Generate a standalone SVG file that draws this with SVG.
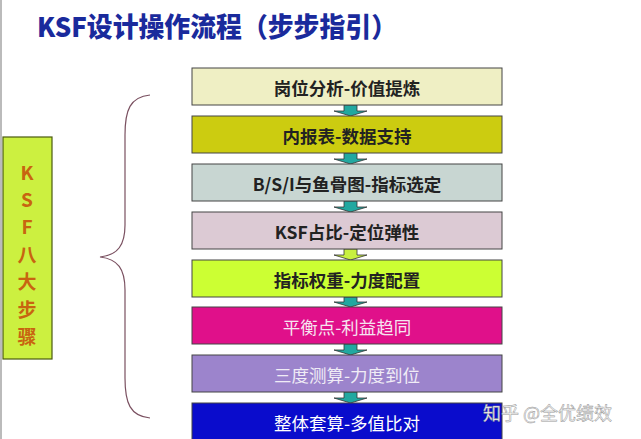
<svg xmlns="http://www.w3.org/2000/svg" width="641" height="439" viewBox="0 0 641 439">
<style>
.box{stroke:#444;stroke-width:1}
.t{font-family:"Noto Sans CJK SC","Noto Sans",sans-serif;font-size:17.5px;text-anchor:middle;dominant-baseline:central}
.b{font-weight:bold}
.arr{fill:#22a8a0;stroke:#333;stroke-width:0.8}
</style>
<rect width="641" height="439" fill="#fff"/>
<line x1="1" y1="0" x2="1" y2="439" stroke="#bbb" stroke-width="2"/>
<text x="37" y="37" font-family="'Noto Sans CJK SC','Liberation Sans',sans-serif" font-size="27" font-weight="900" fill="#1a2a9c" textLength="360" lengthAdjust="spacingAndGlyphs">KSF设计操作流程（步步指引）</text>

<g id="ksf-label">
<rect x="3" y="137" width="49" height="222" fill="#ccf040" stroke="#4a5a10" stroke-width="1.2"/>
<g font-family="'Noto Sans CJK SC','Liberation Sans',sans-serif" font-size="19" font-weight="bold" fill="#c86410" text-anchor="middle" dominant-baseline="central">
<text x="27" y="171">K</text>
<text x="27" y="198">S</text>
<text x="27" y="225">F</text>
<text x="27" y="253">八</text>
<text x="27" y="280">大</text>
<text x="27" y="308">步</text>
<text x="27" y="335">骤</text>
</g>
</g>

<g id="brace">
<path d="M150,95 C130,97 125,110 125,135 L125,225 C125,245 118,255 100,257 C118,259 125,269 125,290 L125,378 C125,403 130,416 150,418" fill="none" stroke="#7a5060" stroke-width="1.2"/>
</g>

<g id="connectors">
<path class="arr" d="M344,105 H357 V111 H367 L350.5,116 L334,111 H344 Z"/>
<path class="arr" d="M344,153 H357 V159 H367 L350.5,164 L334,159 H344 Z"/>
<path class="arr" d="M344,201 H357 V207 H367 L350.5,212 L334,207 H344 Z"/>
<path class="arr" style="fill:#c8f040" d="M344,249 H357 V255 H367 L350.5,260 L334,255 H344 Z"/>
<path class="arr" d="M344,297 H357 V302 H367 L350.5,307 L334,302 H344 Z"/>
<path class="arr" d="M344,344 H357 V350 H367 L350.5,355 L334,350 H344 Z"/>
<path class="arr" d="M344,392 H357 V398 H367 L350.5,403 L334,398 H344 Z"/>
</g>

<g id="step1"><rect class="box" x="192" y="68" width="310" height="37" fill="#efefc4"/><text class="t b" x="347" y="87" fill="#222">岗位分析-价值提炼</text></g>
<g id="step2"><rect class="box" x="192" y="116" width="310" height="37" fill="#cccc10"/><text class="t b" x="347" y="135" fill="#222">内报表-数据支持</text></g>
<g id="step3"><rect class="box" x="192" y="164" width="310" height="37" fill="#c8d6d2"/><text class="t b" x="347" y="183" fill="#222">B/S/I与鱼骨图-指标选定</text></g>
<g id="step4"><rect class="box" x="192" y="212" width="310" height="37" fill="#dccad4"/><text class="t b" x="347" y="231" fill="#222">KSF占比-定位弹性</text></g>
<g id="step5"><rect class="box" x="192" y="260" width="310" height="37" fill="#ccff33"/><text class="t b" x="347" y="279" fill="#222">指标权重-力度配置</text></g>
<g id="step6"><rect class="box" x="192" y="307" width="310" height="37" fill="#e0108a"/><text class="t" x="347" y="326" fill="#f6e4f0">平衡点-利益趋同</text></g>
<g id="step7"><rect class="box" x="192" y="355" width="310" height="37" fill="#9c84cc"/><text class="t" x="347" y="374" fill="#f0ecf6">三度测算-力度到位</text></g>
<g id="step8"><rect class="box" x="192" y="403" width="310" height="40" fill="#0a0ccc"/><text class="t" x="347" y="422" fill="#ffffff">整体套算-多值比对</text></g>

<text x="483" y="420" font-family="'Noto Sans CJK SC',sans-serif" font-size="18" fill="#f8f8f8" stroke="#999" stroke-width="0.5">知乎 @全优绩效</text>
</svg>
